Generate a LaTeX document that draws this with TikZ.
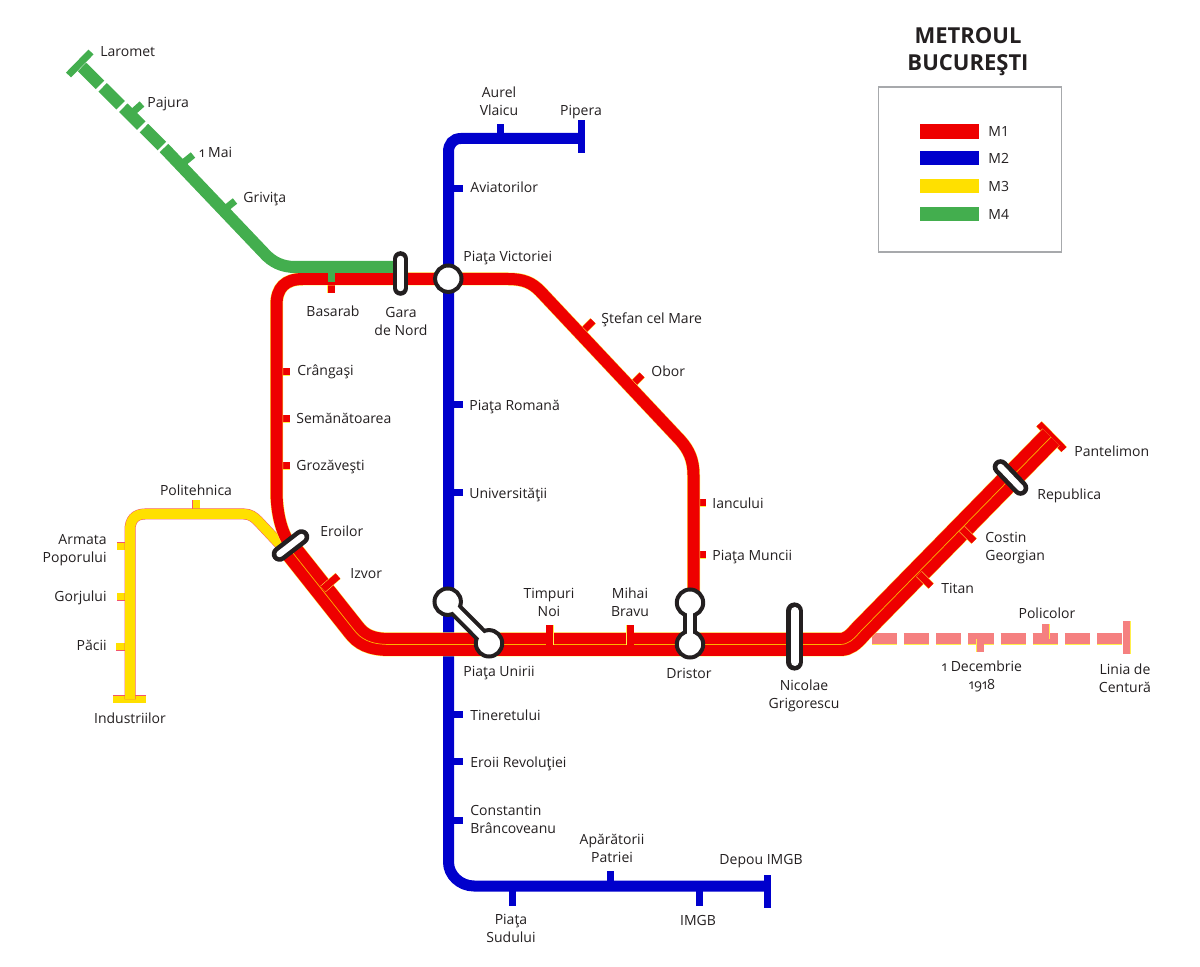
\documentclass[tikz,border=0pt]{standalone}
\usepackage{fontspec}
\setmainfont{Open Sans}
\newfontfamily\oldnumfont[Numbers=OldStyle]{Open Sans}
\usetikzlibrary{positioning}

\definecolor{metrored}{HTML}{EE0000}
\definecolor{metroblue}{HTML}{0000CC}
\definecolor{metroyellow}{HTML}{FFE000}
\definecolor{metrogreen}{HTML}{43AE4E}
\definecolor{metropink}{HTML}{F58080}
\definecolor{metroblack}{HTML}{231F20}
\definecolor{boxgray}{HTML}{A7A9AC}
\definecolor{yellowedge}{HTML}{FFF04A}
\definecolor{rededge}{HTML}{F2556A}

\tikzset{
  m1line/.style={draw=metrored,line width=#1,preaction={draw=yellowedge,line width=#1+0.5pt}},
  m1seam/.style={postaction={draw=metroyellow!80!metrored,line width=0.35pt}},
  m2line/.style={draw=metroblue,line width=#1},
  m3line/.style={draw=metroyellow,line width=#1,preaction={draw=rededge,line width=#1+0.5pt}},
  m4line/.style={draw=metrogreen,line width=#1},
  m5line/.style={draw=metropink,line width=#1,preaction={draw=yellowedge,line width=#1+0.5pt}},
  m5dash/.style={dash pattern=on 12.65pt off 3.45pt},
  swatch/.style={minimum width=29.2pt,minimum height=7.2pt,inner sep=0pt},
  ringstop/.style={circle,draw=metroblack,fill=white,line width=2pt,minimum size=13.2pt,inner sep=0pt},
  neckout/.style={draw=metroblack,line width=7.4pt},
  neckin/.style={draw=white,line width=3.4pt},
  capout/.style={draw=metroblack,line width=#1,line cap=round},
  capin/.style={draw=white,line width=#1-4.6pt,line cap=round}
}

\begin{document}
\begin{tikzpicture}[x=0.5pt,y=-0.5pt,font=\fontsize{7}{9}\selectfont,text=metroblack]

        \useasboundingbox (0,0) rectangle (1200,967);

        % legend
        \node[font=\fontsize{11}{13.5}\selectfont\bfseries,align=center] (title) at (968,51.5) {METROUL\\BUCUREŞTI};
        \node[draw=boxgray,line width=0.6pt,minimum width=91.5pt,minimum height=82.5pt,inner sep=0pt] (legend) at (970,169.5) {};
        \node[swatch,fill=metrored]    (swatch1) at (949.5,131.5) {};
        \node[swatch,fill=metroblue]   (swatch2) at (949.5,158)   {};
        \node[swatch,fill=metroyellow] (swatch3) at (949.5,186)   {};
        \node[swatch,fill=metrogreen]  (swatch4) at (949.5,214)   {};
        \begin{scope}[every node/.style={anchor=west,inner sep=0pt}]
          \node (m1) at (988,131.5) {M1};
          \node (m2) at (988,158.5) {M2};
          \node (m3) at (988,186.5) {M3};
          \node (m4) at (988,214.5) {M4};
        \end{scope}

        % points of the lines
        \coordinate (m5a) at (871.7,638.8);
        \coordinate (m5b) at (1123.5,638.8);
        \coordinate (m5c) at (1126.5,621.5);
        \coordinate (m5d) at (1126.5,654.5);
        \coordinate (dec1) at (980.3,638.8);
        \coordinate (dec2) at (980.3,652);
        \coordinate (pol1) at (1045.7,638.8);
        \coordinate (pol2) at (1045.7,624.3);

        \coordinate (m2a) at (581,138.5);
        \coordinate (m2b) at (461,138.5);
        \coordinate (m2c) at (448.5,152);
        \coordinate (m2d) at (448.5,862);
        \coordinate (m2e) at (474,886);
        \coordinate (m2f) at (767,886);
        \coordinate (pip1) at (581.5,120.5);
        \coordinate (pip2) at (581.5,153.5);
        \coordinate (aur1) at (500.7,138.5);
        \coordinate (aur2) at (500.7,124);
        \coordinate (avi1) at (448.5,188.5);
        \coordinate (avi2) at (463,188.5);
        \coordinate (rom1) at (448.5,405);
        \coordinate (rom2) at (463,405);
        \coordinate (uni1) at (448.5,493);
        \coordinate (uni2) at (463,493);
        \coordinate (tin1) at (448.5,715);
        \coordinate (tin2) at (463,715);
        \coordinate (rev1) at (448.5,762);
        \coordinate (rev2) at (463,762);
        \coordinate (con1) at (448.5,820);
        \coordinate (con2) at (463,820);
        \coordinate (sud1) at (512.3,886);
        \coordinate (sud2) at (512.3,906);
        \coordinate (apa1) at (610,886);
        \coordinate (apa2) at (610,871.3);
        \coordinate (img1) at (699.3,886);
        \coordinate (img2) at (699.3,906);
        \coordinate (dep1) at (767,875);
        \coordinate (dep2) at (767,907.7);

        \coordinate (m3a) at (130,699.5);
        \coordinate (m3b) at (130,530);
        \coordinate (m3c) at (145,514);
        \coordinate (m3d) at (244,514);
        \coordinate (m3e) at (258,521);
        \coordinate (m3f) at (288,553);
        \coordinate (ind1) at (113,699.5);
        \coordinate (ind2) at (146,699.5);
        \coordinate (arm1) at (130,546.5);
        \coordinate (arm2) at (116.5,546.5);
        \coordinate (gor1) at (130,596.7);
        \coordinate (gor2) at (116.5,596.7);
        \coordinate (pac1) at (130,646.7);
        \coordinate (pac2) at (116,646.7);
        \coordinate (pol3) at (196,514);
        \coordinate (pol4) at (196,500);

        \coordinate (m1a) at (293,549);
        \coordinate (m1b) at (276.5,490);
        \coordinate (m1c) at (276.5,305);
        \coordinate (m1d) at (303,279);
        \coordinate (m1e) at (508,279);
        \coordinate (m1f) at (540,291);
        \coordinate (m1g) at (680,440);
        \coordinate (m1h) at (693.5,475);
        \coordinate (m1i) at (693.5,602);

        \coordinate (m1j) at (289,548);
        \coordinate (m1k) at (354,630);
        \coordinate (m1l) at (390,644.5);
        \coordinate (m1m) at (840,644.5);
        \coordinate (m1n) at (860,632);
        \coordinate (m1o) at (1051,437);

        \coordinate (pan1) at (1039,424);
        \coordinate (pan2) at (1064,449.5);
        \coordinate (bas1) at (331,279);
        \coordinate (bas2) at (331,292.7);
        \coordinate (cra1) at (276.5,372);
        \coordinate (cra2) at (290,372);
        \coordinate (sem1) at (276.5,419);
        \coordinate (sem2) at (290,419);
        \coordinate (gro1) at (276.5,466);
        \coordinate (gro2) at (290,466);
        \coordinate (ste1) at (583,331);
        \coordinate (ste2) at (593,321);
        \coordinate (obo1) at (632,385);
        \coordinate (obo2) at (642,375);
        \coordinate (ian1) at (693.5,503);
        \coordinate (ian2) at (706,503);
        \coordinate (mun1) at (693.5,555);
        \coordinate (mun2) at (706,555);
        \coordinate (izv1) at (323,589);
        \coordinate (izv2) at (338,576);
        \coordinate (tim1) at (549.5,645);
        \coordinate (tim2) at (549.5,625);
        \coordinate (bra1) at (630,645);
        \coordinate (bra2) at (630,625);
        \coordinate (cos1) at (962,529);
        \coordinate (cos2) at (974,541);
        \coordinate (tit1) at (919,574);
        \coordinate (tit2) at (931,586);

        \coordinate (m4a) at (82,67);
        \coordinate (m4b) at (164,148);
        \coordinate (m4c) at (264,253);
        \coordinate (m4d) at (295,267);
        \coordinate (m4e) at (394,267);
        \coordinate (lar1) at (68.5,75);
        \coordinate (lar2) at (91,52);
        \coordinate (paj1) at (133,112);
        \coordinate (paj2) at (142,104);
        \coordinate (mai1) at (182,164);
        \coordinate (mai2) at (193,155);
        \coordinate (gri1) at (225,209);
        \coordinate (gri2) at (235,201);
        \coordinate (bas3) at (331,267);
        \coordinate (bas4) at (331,281.7);

        % M5 planned line
        \draw[draw=yellowedge,line width=6pt,m5dash] (m5a) -- (m5b);
        \draw[draw=metropink,line width=5.5pt,m5dash] (m5a) -- (m5b);
        \begin{scope}[every edge/.style={m5line=3.5pt}]
          \path (m5c)  edge (m5d);
          \path (dec1) edge (dec2);
          \path (pol1) edge (pol2);
        \end{scope}

        % M2
        \draw[m2line=5.5pt] (m2a) -- (m2b) .. controls (453,138.5) and (448.5,144) .. (m2c) -- (m2d)
          .. controls (448.5,875) and (460,886) .. (m2e) -- (m2f);
        \begin{scope}[every edge/.style={m2line=3.5pt}]
          \path (pip1) edge (pip2);
          \path (aur1) edge (aur2);
          \path (avi1) edge (avi2);
          \path (rom1) edge (rom2);
          \path (uni1) edge (uni2);
          \path (tin1) edge (tin2);
          \path (rev1) edge (rev2);
          \path (con1) edge (con2);
          \path (sud1) edge (sud2);
          \path (apa1) edge (apa2);
          \path (img1) edge (img2);
          \path (dep1) edge (dep2);
        \end{scope}

        % M3
        \begin{scope}[every edge/.style={m3line=3.5pt}]
          \path (ind1) edge (ind2);
          \path (arm1) edge (arm2);
          \path (gor1) edge (gor2);
          \path (pac1) edge (pac2);
          \path (pol3) edge (pol4);
        \end{scope}
        \draw[m3line=5pt] (m3a) -- (m3b) .. controls (130,520) and (135,514) .. (m3c) -- (m3d)
          .. controls (250,514) and (254,517) .. (m3e) -- (m3f);

        % M1
        \begin{scope}[every edge/.style={m1line=3.5pt}]
          \path (bas1) edge (bas2);
          \path (cra1) edge (cra2);
          \path (sem1) edge (sem2);
          \path (gro1) edge (gro2);
          \path (ste1) edge (ste2);
          \path (obo1) edge (obo2);
          \path (ian1) edge (ian2);
          \path (mun1) edge (mun2);
          \path (pan1) edge (pan2);
        \end{scope}
        \draw[m1line=6pt] (m1a) .. controls (282,535) and (276.5,515) .. (m1b) -- (m1c)
          .. controls (276.5,288) and (285,279) .. (m1d) -- (m1e)
          .. controls (524,279) and (532,283) .. (m1f) -- (m1g)
          .. controls (689,450) and (693.5,460) .. (m1h) -- (m1i);
        \draw[m1line=11.5pt,m1seam] (m1j) -- (m1k) .. controls (361,639) and (370,644.5) .. (m1l) -- (m1m)
          .. controls (848,644.5) and (853,640) .. (m1n) -- (m1o);
        \begin{scope}[every edge/.style={m1line=3.5pt}]
          \path (izv1) edge (izv2);
          \path (tim1) edge (tim2);
          \path (bra1) edge (bra2);
          \path (cos1) edge (cos2);
          \path (tit1) edge (tit2);
        \end{scope}

        % M4
        \draw[m4line=6pt,dash pattern=on 12.7pt off 1.8pt] (m4a) -- (m4b);
        \draw[m4line=6pt] (m4b) -- (m4c) .. controls (272,262) and (282,267) .. (m4d) -- (m4e);
        \begin{scope}[every edge/.style={m4line=3.5pt}]
          \path (lar1) edge (lar2);
          \path (paj1) edge (paj2);
          \path (mai1) edge (mai2);
          \path (gri1) edge (gri2);
          \path (bas3) edge (bas4);
        \end{scope}

        % interchanges
        \coordinate (gara1) at (400.5,259);
        \coordinate (gara2) at (400.5,288);
        \coordinate (ero1) at (279.5,554);
        \coordinate (ero2) at (301.5,537);
        \coordinate (nic1) at (794.5,611);
        \coordinate (nic2) at (794.5,662);
        \coordinate (rep1) at (1000.5,467);
        \coordinate (rep2) at (1020.5,488);
        \draw[capout=7.8pt] (gara1) -- (gara2);
        \draw[capin=7.8pt]  (gara1) -- (gara2);
        \draw[capout=7.8pt] (ero1) -- (ero2);
        \draw[capin=7.8pt]  (ero1) -- (ero2);
        \draw[capout=8.6pt] (nic1) -- (nic2);
        \draw[capin=8.6pt]  (nic1) -- (nic2);
        \draw[capout=7.8pt] (rep1) -- (rep2);
        \draw[capin=7.8pt]  (rep1) -- (rep2);

        \node[ringstop] (victoriei) at (448.3,278.7) {};
        \draw[neckout] (447.7,601.7) -- (489,643.3);
        \node[ringstop] (unirii1) at (447.7,601.7) {};
        \node[ringstop] (unirii2) at (489,643.3) {};
        \draw[neckin] (unirii1.center) -- (unirii2.center);
        \draw[neckout] (690,602.7) -- (690,644.3);
        \node[ringstop] (dristor1) at (690,602.7) {};
        \node[ringstop] (dristor2) at (690,644.3) {};
        \draw[neckin] (dristor1.center) -- (dristor2.center);

        % station names
        \begin{scope}[every node/.style={anchor=west,inner sep=0pt,align=left}]
          \node (laromet)   at (100,52)   {Laromet};
          \node (pajura)    at (147,104)  {Pajura};
          \node (unmai)     at (199,152)  {{\oldnumfont 1} Mai};
          \node (grivita)   at (243,199)  {Griviţa};
          \node (pvictoriei) at (463,258) {Piaţa Victoriei};
          \node (aviatorilor) at (470,187) {Aviatorilor};
          \node (stefan)    at (601,320)  {Ştefan cel Mare};
          \node (obor)      at (651,371)  {Obor};
          \node (crangasi)  at (297,372)  {Crângaşi};
          \node (semanatoarea) at (296,418) {Semănătoarea};
          \node (grozavesti) at (296,467) {Grozăveşti};
          \node (promana)   at (469,407)  {Piaţa Romană};
          \node (universitatii) at (469,495) {Universităţii};
          \node (iancului)  at (712,503)  {Iancului};
          \node (pmuncii)   at (712,557)  {Piaţa Muncii};
          \node (eroilor)   at (320,531)  {Eroilor};
          \node (izvor)     at (350,574)  {Izvor};
          \node (tineretului) at (470,715) {Tineretului};
          \node (revolutiei) at (470,764) {Eroii Revoluţiei};
          \node (brancoveanu) at (470,819) {Constantin\\Brâncoveanu};
          \node (pantelimon) at (1074,451) {Pantelimon};
          \node (republica) at (1037,496) {Republica};
          \node (georgian)  at (985,548)  {Costin\\Georgian};
          \node (titan)     at (941,588)  {Titan};
        \end{scope}

        \begin{scope}[every node/.style={anchor=center,inner sep=0pt,align=center}]
          \node (basarab)   at (333,311)  {Basarab};
          \node (gara)      at (401,322)  {Gara\\de Nord};
          \node (vlaicu)    at (499,101.5) {Aurel\\Vlaicu};
          \node (pipera)    at (581,112)  {Pipera};
          \node (politehnica) at (196,490) {Politehnica};
          \node (industriilor) at (130,718) {Industriilor};
          \node (noi)       at (549,602)  {Timpuri\\Noi};
          \node (bravu)     at (630,602)  {Mihai\\Bravu};
          \node (punirii)   at (499,673)  {Piaţa Unirii};
          \node (dristor)   at (689,673)  {Dristor};
          \node (grigorescu) at (804,696) {Nicolae\\Grigorescu};
          \node (patriei)   at (612,848.5) {Apărătorii\\Patriei};
          \node (depou)     at (761,861)  {Depou IMGB};
          \node (sudului)   at (511,928)  {Piaţa\\Sudului};
          \node (imgb)      at (698,920)  {IMGB};
          \node (policolor) at (1047,613) {Policolor};
          \node (decembrie) at (982,676)  {{\oldnumfont 1} Decembrie\\{\oldnumfont 1918}};
          \node (centura)   at (1125,678) {Linia de\\Centură};
        \end{scope}

        \begin{scope}[every node/.style={anchor=east,inner sep=0pt,align=right}]
          \node (poporului) at (107,550)  {Armata\\Poporului};
          \node (gorjului)  at (107,598)  {Gorjului};
          \node (pacii)     at (107,645)  {Păcii};
        \end{scope}

      \end{tikzpicture}
\end{document}
